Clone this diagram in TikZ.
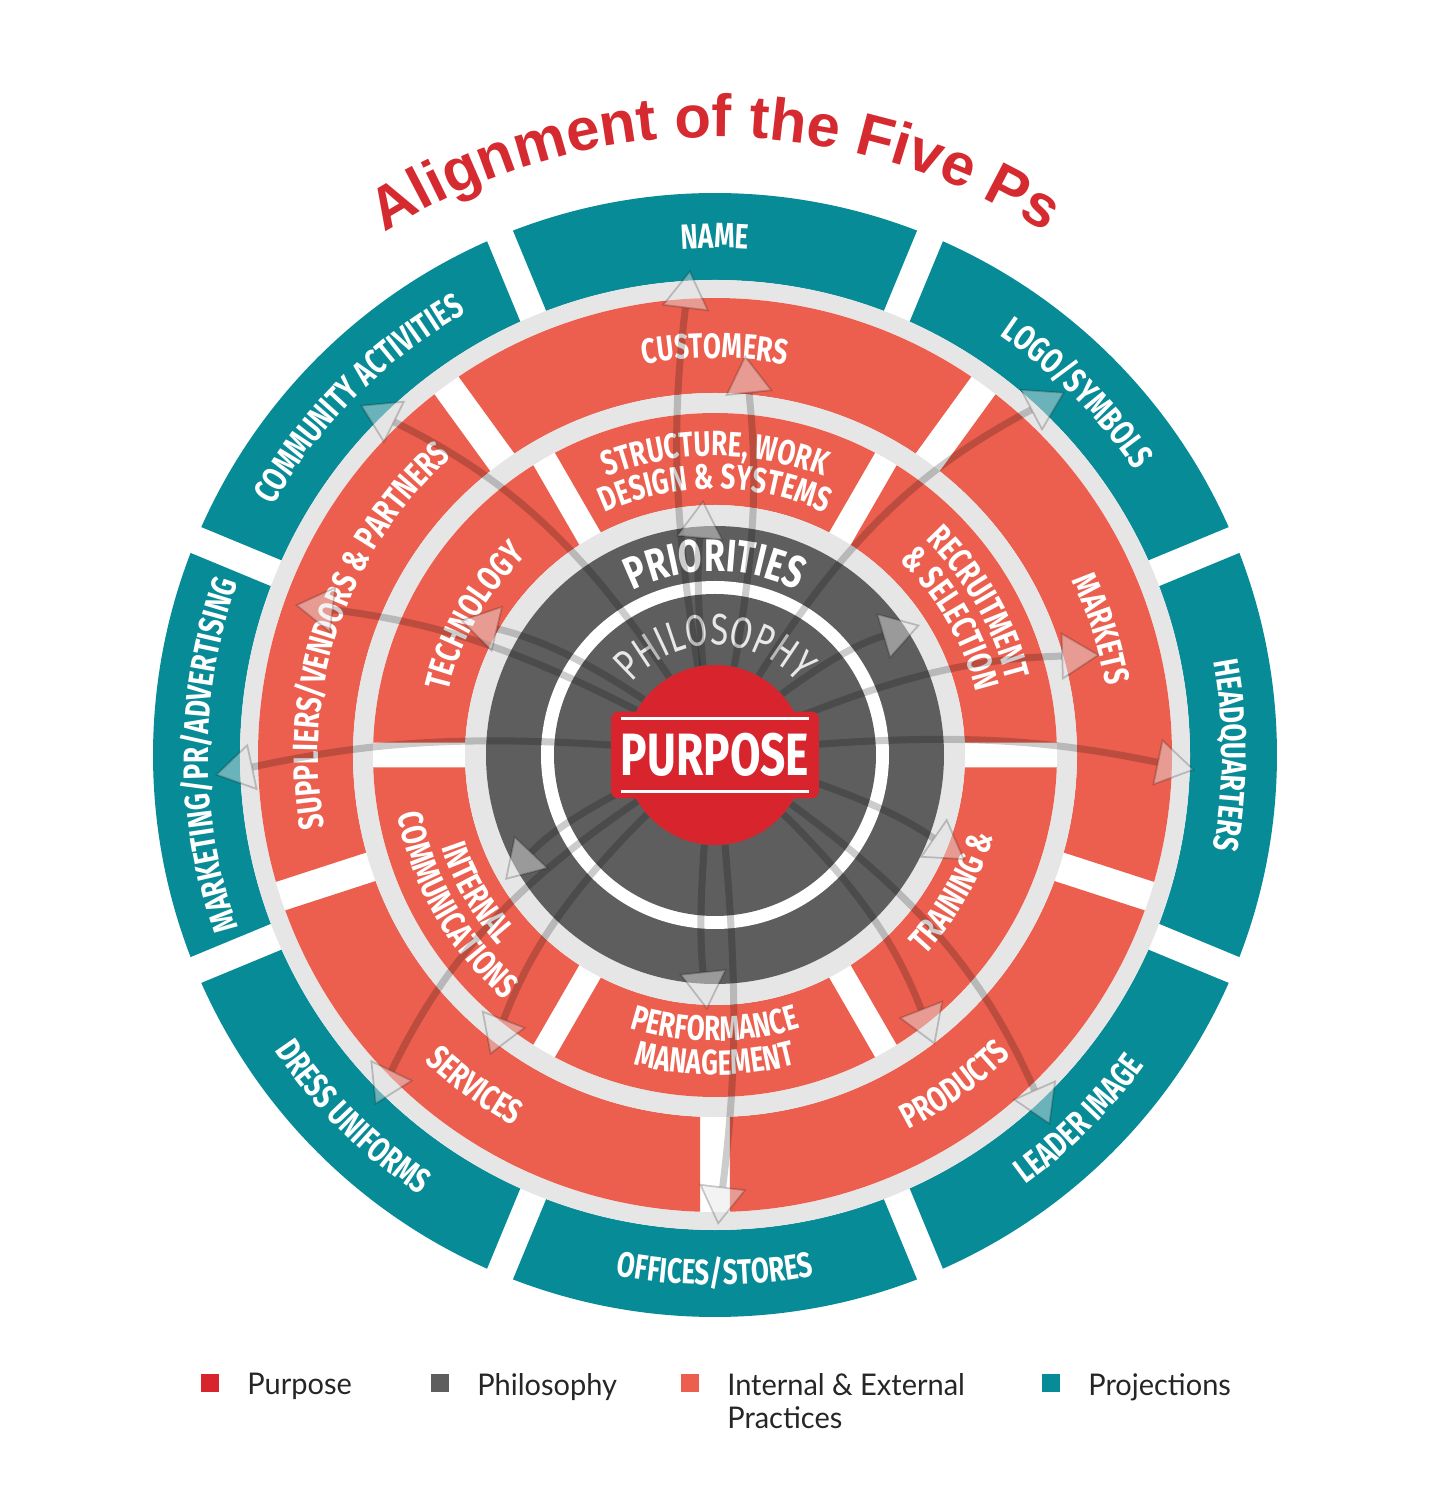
\documentclass[tikz,border=0pt]{standalone}
\usepackage{fontspec}
\usepackage{tikz}
\usetikzlibrary{arrows.meta}
\usetikzlibrary{decorations.text}
\usetikzlibrary{positioning}

\newfontfamily\lblfont[FakeStretch=0.74]{Fira Sans}
\newfontfamily\ttlfont{Liberation Sans}
\newfontfamily\legfont[FakeStretch=0.97]{Lato}

\definecolor{purp}{HTML}{D8242D}
\definecolor{philo}{HTML}{5E5E5E}
\definecolor{pract}{HTML}{EC5F4E}
\definecolor{proj}{HTML}{078B97}
\definecolor{band}{HTML}{E6E6E6}
\definecolor{ttl}{HTML}{D62A31}
\definecolor{philtxt}{HTML}{E8E8E8}

\newcommand\segfont{\lblfont\bfseries\fontsize{20}{24}\selectfont}
\newcommand\prifont{\lblfont\bfseries\fontsize{26}{30}\selectfont}
\newcommand\phifont{\lblfont\fontsize{25}{28}\selectfont}
\newcommand\purfont{\lblfont\bfseries\fontsize{34}{40}\selectfont}

% ring sector with straight gaps: from angle, to angle, inner r, outer r, colour
\newcommand\ringseg[5]{%
  \fill[#5] ({#1+asin(\halfgap/#4)}:#4)
    arc[start angle={#1+asin(\halfgap/#4)}, end angle={#2-asin(\halfgap/#4)}, radius=#4]
    -- ({#2-asin(\halfgap/#3)}:#3)
    arc[start angle={#2-asin(\halfgap/#3)}, end angle={#1+asin(\halfgap/#3)}, radius=#3] -- cycle;}
% text on an arc: font, mid angle, half span, radius, text
\newcommand\cwtext[5]{\path[seglbl, decoration={text={|#1|#5}}]
  ({#2+#3}:#4) arc[start angle={#2+#3}, end angle={#2-#3}, radius=#4];}
\newcommand\ccwtext[5]{\path[seglbl, decoration={text={|#1|#5}}]
  ({#2-#3}:#4) arc[start angle={#2-#3}, end angle={#2+#3}, radius=#4];}

\begin{document}
\begin{tikzpicture}[x=0.02cm, y=0.02cm]
\tikzstyle{seglbl}=[decorate, decoration={text along path, text align=center, text color=white}]
\tikzstyle{flow}=[line width=4pt, draw=black, draw opacity=0.2, fill opacity=0.45, -{Triangle[length=22pt, width=27pt, fill=gray!20, line width=1pt]}]
\tikzstyle{legbox}=[minimum size=0.36cm, inner sep=0]
\tikzstyle{legtxt}=[anchor=north west, inner sep=0, align=left, text=black!85, font=\legfont\fontsize{17}{19}\selectfont]
\useasboundingbox (-715,-745) rectangle (715,755);

% projections
\def\halfgap{14}
\foreach \c in {0,45,...,315}{\ringseg{\c-22.5}{\c+22.5}{475}{562}{proj}}
\fill[band] (0,0) circle (475);
\fill[white] (0,0) circle (457);
% external and internal practices
\def\halfgap{15}
\foreach \c in {18,90,162,234,306}{\ringseg{\c-36}{\c+36}{362}{457}{pract}}
\fill[band] (0,0) circle (362);
\fill[white] (0,0) circle (342);
\def\halfgap{12.5}
\foreach \c in {30,90,...,330}{\ringseg{\c-30}{\c+30}{250}{342}{pract}}
\fill[band] (0,0) circle (250);
% philosophy
\fill[philo] (0,0) circle (229);
\fill[white] (0,0) circle (174);
\fill[philo] (0,0) circle (161);

\cwtext{\segfont}{90}{30}{507}{NAME}
\cwtext{\segfont}{45}{30}{507}{LOGO/SYMBOLS}
\cwtext{\segfont}{0}{30}{507}{HEADQUARTERS}
\cwtext{\segfont}{135}{30}{507}{COMMUNITY ACTIVITIES}
\cwtext{\segfont}{180}{30}{507}{MARKETING/PR/ADVERTISING}
\ccwtext{\segfont}{-45}{30}{530}{LEADER IMAGE}
\ccwtext{\segfont}{-90}{30}{530}{OFFICES/STORES}
\ccwtext{\segfont}{-135}{30}{530}{DRESS UNIFORMS}

\cwtext{\segfont}{90}{30}{397}{CUSTOMERS}
\cwtext{\segfont}{18}{30}{397}{MARKETS}
\cwtext{\segfont}{161}{34}{397}{SUPPLIERS/VENDORS {\&} PARTNERS}
\ccwtext{\segfont}{-54}{30}{422}{PRODUCTS}
\ccwtext{\segfont}{-126}{30}{422}{SERVICES}

\cwtext{\segfont}{90}{30}{299}{STRUCTURE, WORK}
\cwtext{\segfont}{90}{30}{266}{DESIGN {\&} SYSTEMS}
\cwtext{\segfont}{30}{30}{301}{RECRUITMENT}
\cwtext{\segfont}{30}{30}{268}{{\&} SELECTION}
\cwtext{\segfont}{150}{30}{274}{TECHNOLOGY}
\ccwtext{\segfont}{-30}{30}{290}{TRAINING {\&}}
\ccwtext{\segfont}{-90}{30}{286}{PERFORMANCE}
\ccwtext{\segfont}{-90}{30}{320}{MANAGEMENT}
\ccwtext{\segfont}{-150}{30}{289}{INTERNAL}
\ccwtext{\segfont}{-150}{30}{323}{COMMUNICATIONS}

\cwtext{\prifont}{90}{40}{184}{PRIORITIES}
\path[seglbl, decoration={text color=philtxt, text={|\phifont|PHILOSOPHY}}] (175:110) arc[start angle=175, end angle=5, radius=110];

\node[circle, fill=purp, minimum size=3.6cm, inner sep=0] (P) at (0,0) {};
\coordinate (a-name) at (-25,485);
\coordinate (a-cust) at (30,400);
\coordinate (a-struct) at (-12,255);
\coordinate (a-logo) at (350,363);
\coordinate (a-mkts) at (385,100);
\coordinate (a-recr) at (205,130);
\coordinate (a-hq) at (480,-15);
\coordinate (a-train) at (250,-105);
\coordinate (a-lead) at (335,-370);
\coordinate (a-prod) at (220,-290);
\coordinate (a-off) at (3,-470);
\coordinate (a-perf) at (-8,-255);
\coordinate (a-serv) at (-225,-300);
\coordinate (a-dress) at (-340,-350);
\coordinate (a-intc) at (-210,-125);
\coordinate (a-mktg) at (-500,-20);
\coordinate (a-supp) at (-420,150);
\coordinate (a-tech) at (-255,135);
\coordinate (a-comm) at (-355,350);
\foreach \t/\b in {a-name/8, a-cust/-8, a-struct/5, a-logo/15, a-mkts/10, a-recr/10, a-hq/8, a-train/8, a-lead/15, a-prod/12, a-off/6, a-perf/-5, a-serv/-12, a-dress/-15, a-intc/-10, a-mktg/-8, a-supp/-10, a-tech/-10, a-comm/-15}{
\draw[flow] (P) to[bend left=\b] (\t);}

\node[fill=purp, rounded corners=0.15cm, minimum width=4.16cm, minimum height=1.74cm, text=white, font=\purfont, inner sep=0] (banner) at (P) {PURPOSE};
\draw[white, line width=1.6pt] ([xshift=0.2cm, yshift=-0.14cm]banner.north west) -- ([xshift=-0.2cm, yshift=-0.14cm]banner.north east);
\draw[white, line width=1.6pt] ([xshift=0.2cm, yshift=0.14cm]banner.south west) -- ([xshift=-0.2cm, yshift=0.14cm]banner.south east);

% title
\path[decorate, decoration={text along path, text align=center, text color=ttl, text={|\ttlfont\bfseries\fontsize{34}{40}\selectfont|Alignment of the Five Ps}}] (130:618) arc[start angle=130, end angle=50, radius=618];

% legend
\node[legbox, fill=purp] (k-pur) at (-505,-628) {};
\node[legbox, fill=philo] (k-phi) at (-275,-628) {};
\node[legbox, fill=pract] (k-pra) at (-25,-628) {};
\node[legbox, fill=proj] (k-pro) at (336,-628) {};
\node[legtxt] (t-pur) at (-468,-618) {Purpose};
\node[legtxt] (t-phi) at (-238,-618) {Philosophy};
\node[legtxt] (t-pra) at (12,-618) {Internal \& External\\Practices};
\node[legtxt] (t-pro) at (373,-618) {Projections};
\end{tikzpicture}
\end{document}
